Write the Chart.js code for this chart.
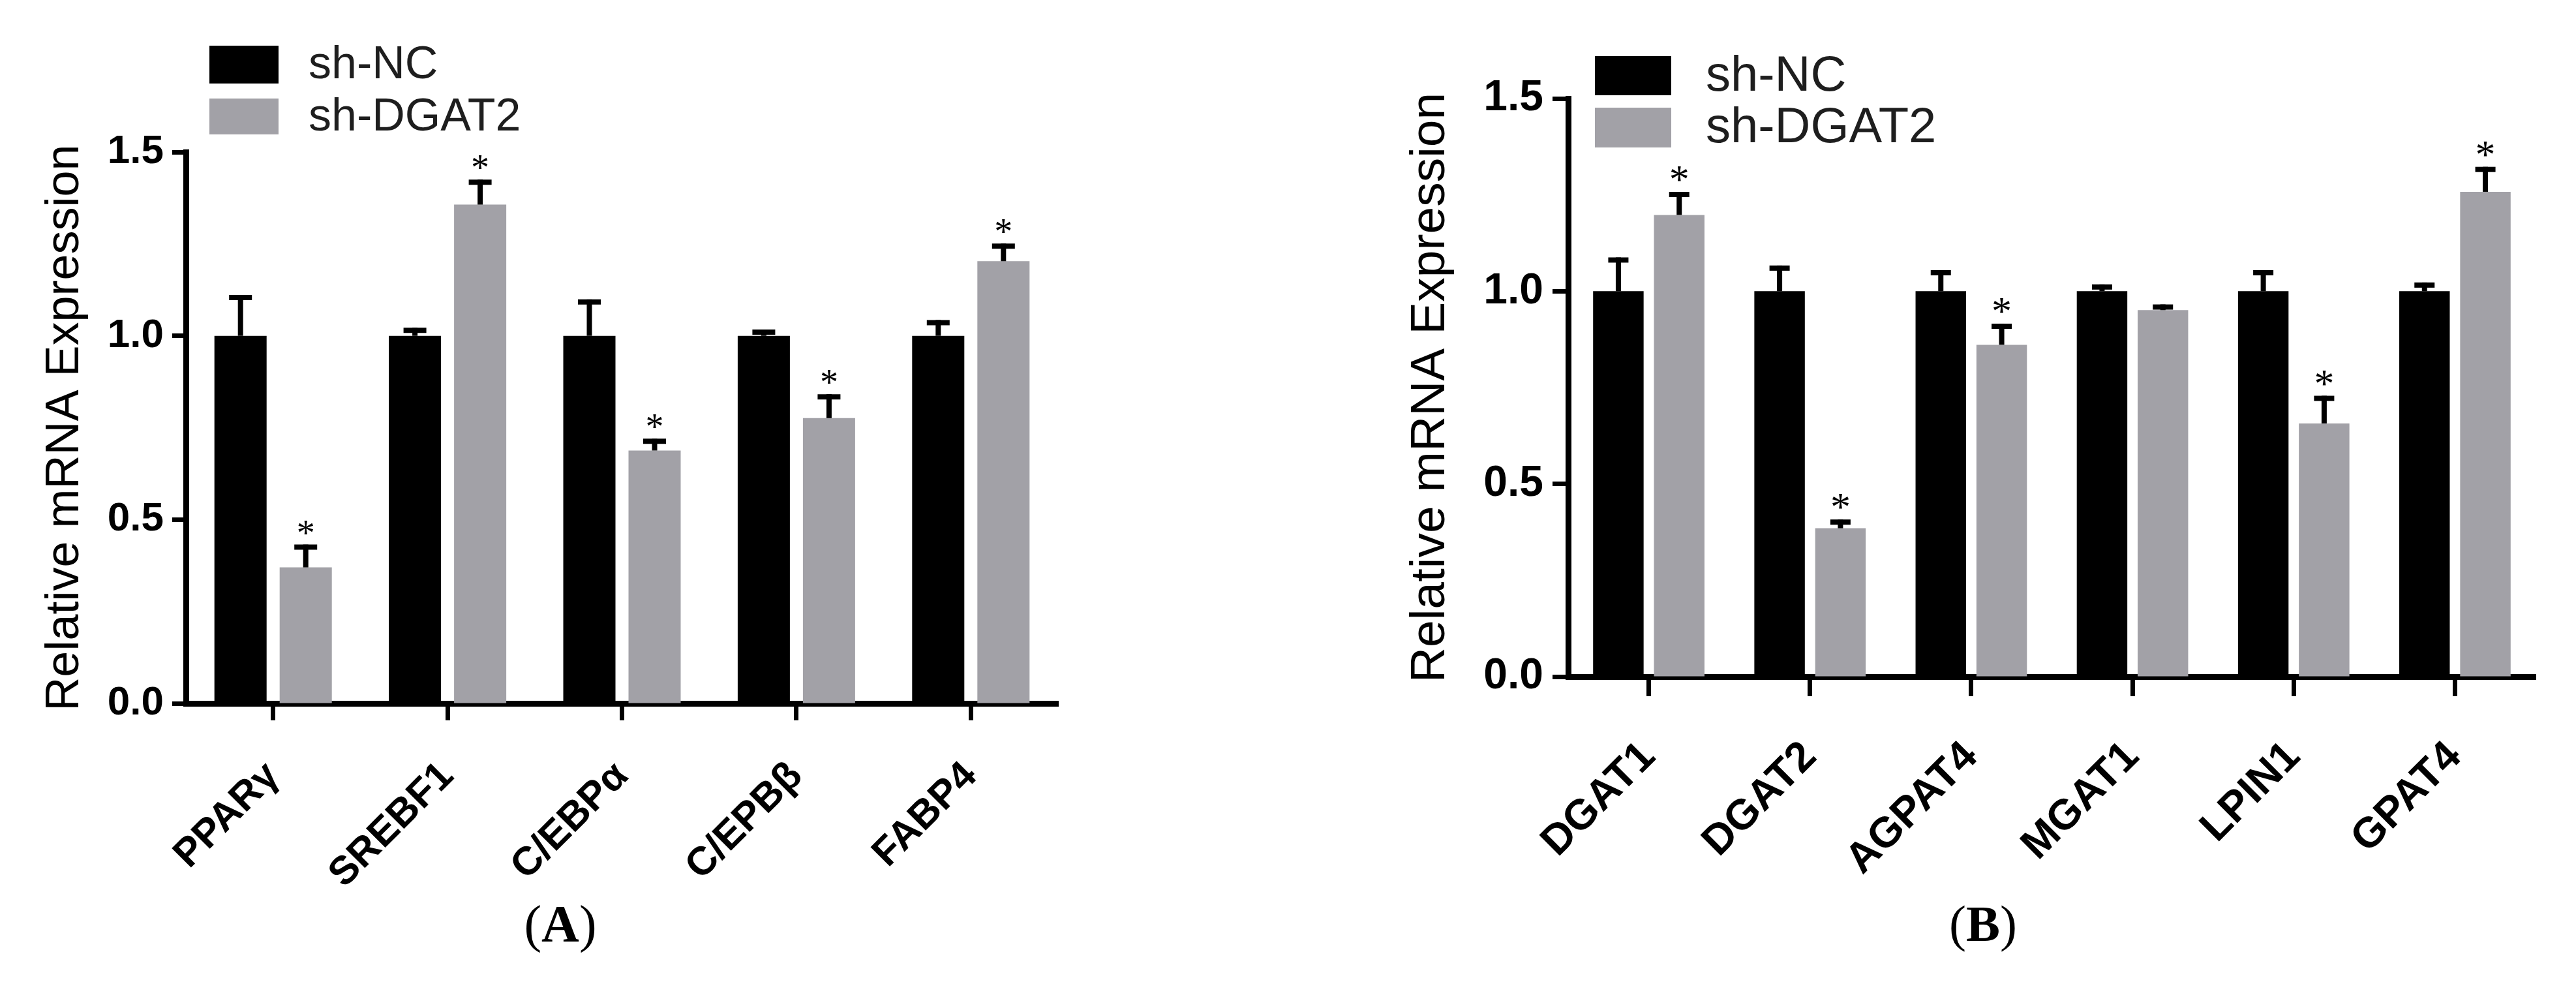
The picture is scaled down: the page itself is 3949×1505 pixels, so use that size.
<!DOCTYPE html>
<html>
<head>
<meta charset="utf-8">
<script src="https://cdn.jsdelivr.net/npm/chart.js@4.4.1/dist/chart.umd.min.js"></script>
<style>
  html, body { margin: 0; padding: 0; background: #fff; }
  #page { position: relative; width: 3949px; height: 1505px; overflow: hidden; background: #fff; }
  .wrap { position: absolute; top: 0; }
  .panel { position: absolute; font-family: "Liberation Serif", "Times New Roman", serif; line-height: 1; color: #000; transform: translateX(-50%); white-space: nowrap; }
</style>
</head>
<body>
<div id="page">
  <div class="wrap" style="left:0px;width:1700px;height:1505px;"><canvas id="chartA" width="1700" height="1505"></canvas></div>
  <div class="wrap" style="left:1950px;width:1999px;height:1505px;"><canvas id="chartB" width="1999" height="1505"></canvas></div>
  <div class="panel" style="left:859px;top:1376px;font-size:80px;">(<b>A</b>)</div>
  <div class="panel" style="left:3040px;top:1377px;font-size:78px;">(<b>B</b>)</div>
</div>
<script>
// ---------- Data: panel A ----------
const categoriesA = ["PPARγ", "SREBF1", "C/EBPα", "C/EPBβ", "FABP4"];
const ncA      = [1.0, 1.0, 1.0, 1.0, 1.0];
const ncErrA   = [0.104, 0.015, 0.092, 0.010, 0.036];
const kdA      = [0.370, 1.357, 0.688, 0.776, 1.203];
const kdErrA   = [0.055, 0.061, 0.025, 0.058, 0.041];
const kdStarA  = [true, true, true, true, true];

// ---------- Data: panel B ----------
const categoriesB = ["DGAT1", "DGAT2", "AGPAT4", "MGAT1", "LPIN1", "GPAT4"];
const ncB      = [1.0, 1.0, 1.0, 1.0, 1.0, 1.0];
const ncErrB   = [0.081, 0.060, 0.048, 0.011, 0.048, 0.016];
const kdB      = [1.198, 0.385, 0.861, 0.951, 0.657, 1.258];
const kdErrB   = [0.053, 0.016, 0.048, 0.008, 0.065, 0.058];
const kdStarB  = [true, true, true, false, true, true];

const seriesLabels = ["sh-NC", "sh-DGAT2"];
const yTicks = [0, 0.5, 1.0, 1.5];
const yTitle = "Relative mRNA Expression";

const BLACK = "#000000";
const GRAY = "#a2a1a7";

// Error bars + significance stars
const errorBarPlugin = {
  id: "errorBars",
  afterDatasetsDraw(chart, args, opts) {
    const ctx = chart.ctx;
    const yScale = chart.scales.y;
    chart.data.datasets.forEach((ds, i) => {
      const meta = chart.getDatasetMeta(i);
      if (meta.hidden) return;
      meta.data.forEach((bar, j) => {
        const v = ds.data[j];
        const e = ds.errors ? ds.errors[j] : 0;
        const yTop = yScale.getPixelForValue(v);
        const yErr = yScale.getPixelForValue(v + e);
        ctx.save();
        ctx.strokeStyle = "#000";
        ctx.lineWidth = opts.lineWidth;
        ctx.lineCap = "butt";
        ctx.beginPath();
        ctx.moveTo(bar.x, yTop);
        ctx.lineTo(bar.x, yErr - opts.lineWidth / 2);
        ctx.stroke();
        ctx.beginPath();
        ctx.moveTo(bar.x - opts.capWidth / 2, yErr);
        ctx.lineTo(bar.x + opts.capWidth / 2, yErr);
        ctx.stroke();
        if (ds.stars && ds.stars[j]) {
          ctx.fillStyle = "#000";
          ctx.font = opts.starSize + "px 'Liberation Serif', 'Times New Roman', serif";
          ctx.textAlign = "center";
          ctx.textBaseline = "alphabetic";
          ctx.fillText("*", bar.x, yErr - opts.starGap);
        }
        ctx.restore();
      });
    });
  }
};

// Stacked legend drawn from the datasets
const stackedLegendPlugin = {
  id: "stackedLegend",
  afterDraw(chart, args, opts) {
    const ctx = chart.ctx;
    chart.data.datasets.forEach((ds, i) => {
      const b = opts.boxes[i];
      ctx.save();
      ctx.fillStyle = ds.backgroundColor;
      ctx.fillRect(b[0], b[1], b[2], b[3]);
      ctx.fillStyle = "#1e1e1e";
      ctx.font = opts.fontSize + "px 'Liberation Sans', Arial, sans-serif";
      ctx.textAlign = "left";
      ctx.textBaseline = "middle";
      ctx.fillText(ds.label, opts.textX, b[1] + b[3] / 2 + 2);
      ctx.restore();
    });
  }
};

function makeChart(id, cats, nc, ncErr, kd, kdErr, kdStar, cfg) {
  return new Chart(document.getElementById(id), {
    type: "bar",
    data: {
      labels: cats,
      datasets: [
        { label: seriesLabels[0], data: nc, errors: ncErr, stars: nc.map(() => false),
          backgroundColor: BLACK, borderWidth: 0,
          categoryPercentage: cfg.catPct, barPercentage: cfg.barPct },
        { label: seriesLabels[1], data: kd, errors: kdErr, stars: kdStar,
          backgroundColor: GRAY, borderWidth: 0,
          categoryPercentage: cfg.catPct, barPercentage: cfg.barPct }
      ]
    },
    options: {
      responsive: false,
      animation: false,
      devicePixelRatio: 1,
      layout: { padding: { top: cfg.top, right: cfg.right, bottom: 0, left: 0 } },
      plugins: {
        legend: { display: false },
        tooltip: { enabled: false },
        errorBars: { lineWidth: 8, capWidth: cfg.capWidth, starSize: cfg.starSize, starGap: 3 },
        stackedLegend: { boxes: cfg.legendBoxes, textX: cfg.legendTextX, fontSize: cfg.legendFont }
      },
      scales: {
        x: {
          afterFit: (s) => { s.height = cfg.xAxisHeight; },
          grid: { offset: false, drawOnChartArea: false, drawTicks: true, tickLength: cfg.xTickLen, tickWidth: 7, tickColor: "#000" },
          border: { display: true, color: "#000", width: 9 },
          ticks: {
            color: "#000", minRotation: 45, maxRotation: 45, autoSkip: false, padding: cfg.xPad,
            font: { family: "'Liberation Sans', Arial, sans-serif", size: cfg.xFont, weight: "bold" }
          }
        },
        y: {
          min: 0, max: 1.5,
          afterFit: (s) => { s.width = cfg.yAxisWidth; },
          afterBuildTicks: (s) => { s.ticks = yTicks.map(v => ({ value: v })); },
          grid: { drawOnChartArea: false, drawTicks: true, tickLength: cfg.yTickLen, tickWidth: 7, tickColor: "#000" },
          border: { display: true, color: "#000", width: 9 },
          ticks: {
            color: "#000", padding: cfg.yPad,
            callback: (v) => Number(v).toFixed(1),
            font: { family: "'Liberation Sans', Arial, sans-serif", size: cfg.yFont, weight: "bold" }
          },
          title: {
            display: true, text: yTitle, color: "#000",
            padding: { top: cfg.titlePad, bottom: 0 },
            font: { family: "'Liberation Sans', Arial, sans-serif", size: cfg.titleFont, weight: "normal" }
          }
        }
      }
    },
    plugins: [errorBarPlugin, stackedLegendPlugin]
  });
}

makeChart("chartA", categoriesA, ncA, ncErrA, kdA, kdErrA, kdStarA, {
  catPct: 0.748, barPct: 0.80, top: 233, right: 78,
  xAxisHeight: 427, yAxisWidth: 285,
  xTickLen: 26, yTickLen: 21, xPad: 50, yPad: 13,
  xFont: 61, yFont: 62, titleFont: 72, titlePad: 57,
  capWidth: 35, starSize: 56,
  legendBoxes: [[321, 70, 106, 58], [321, 151, 106, 55]], legendTextX: 473, legendFont: 70
});

makeChart("chartB", categoriesB, ncB, ncErrB, kdB, kdErrB, kdStarB, {
  catPct: 0.755, barPct: 0.83, top: 151, right: 62,
  xAxisHeight: 468, yAxisWidth: 454,
  xTickLen: 30, yTickLen: 24, xPad: 55, yPad: 14,
  xFont: 65, yFont: 66, titleFont: 75, titlePad: 198,
  capWidth: 31, starSize: 62,
  legendBoxes: [[495, 86, 117, 60], [495, 165, 117, 61]], legendTextX: 665, legendFont: 76
});
</script>
</body>
</html>
